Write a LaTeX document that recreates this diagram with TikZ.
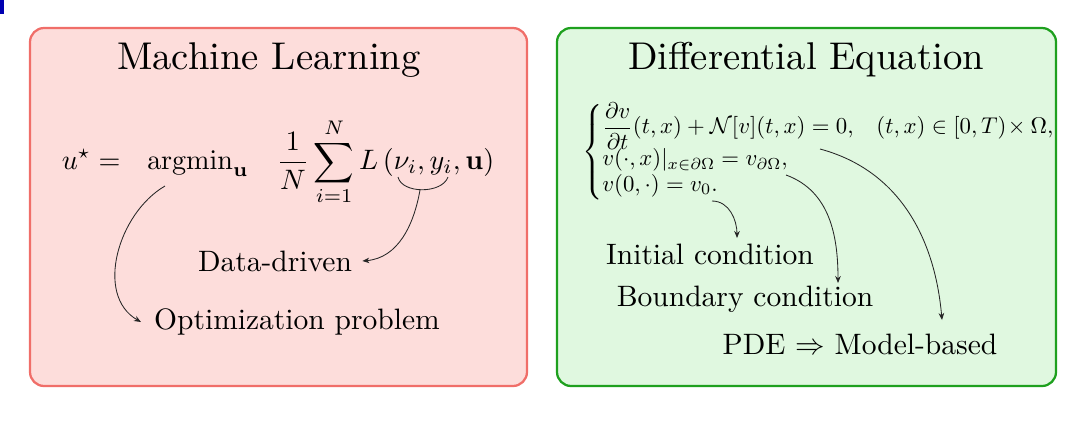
\documentclass[tikz,border=0pt]{standalone}
\usepackage{amsmath,amssymb}
\usetikzlibrary{arrows.meta}
\begin{document}
\begin{tikzpicture}[x=0.025cm,y=-0.025cm,
  panel/.style={rounded corners=10pt,line width=1.6pt},
  title/.style={scale=2.75},
  txt/.style={scale=2.1},
  conn/.style={-{Stealth[length=5pt,width=4pt]},line width=0.6pt,black!85}]
\useasboundingbox (0,0) rectangle (1082,436);
\fill[blue!70!black] (0,0) rectangle (4,14);
\draw[panel,draw={rgb,255:red,240;green,110;blue,105},fill={rgb,255:red,253;green,221;blue,219}] (30,28) rectangle (527,386);
\draw[panel,draw={rgb,255:red,30;green,160;blue,30},fill={rgb,255:red,224;green,248;blue,224}] (557,28) rectangle (1056,386);
\node[title] (t1) at (269,60) {Machine Learning};
\node[title] (t2) at (806,60) {Differential Equation};
\node[scale=2.0] (ml) at (278,162) {$\displaystyle u^\star =\ \ \mathrm{argmin}_{\mathbf u}\ \ \ \frac{1}{N}\sum_{i=1}^{N} L\left(\nu_i, y_i, \mathbf{u}\right)$};
\node[txt] (dd) at (275,261) {Data-driven};
\node[txt] (op) at (297,322) {Optimization problem};
\coordinate (b1) at (398,177);
\coordinate (b2) at (448,177);
\coordinate (bm) at (420,190);
\coordinate (am) at (165,186);
\draw[line width=0.6pt,black!85] (b1) .. controls (402,194) and (442,194) .. (b2);
\draw[conn] (bm) to[out=-100,in=5] (dd.east);
\draw[conn] (am) to[out=210,in=150] ([xshift=-2pt]op.west);
\node[scale=1.62,anchor=west] (pde) at (574,152) {$\begin{cases}\dfrac{\partial v}{\partial t}(t,x)+\mathcal N[v](t,x)=0, \;\;\; (t,x)\in[0,T)\!\times\Omega,\\[-3pt] v(\cdot,x)|_{x\in\partial\Omega}=v_{\partial\Omega},\\[-3pt] v(0,\cdot)=v_0.\end{cases}$};
\node[txt] (ic) at (710,254) {Initial condition};
\node[txt] (bc) at (745,299) {Boundary condition};
\node[txt] (mb) at (860,344) {PDE $\Rightarrow$ Model-based};
\coordinate (e3) at (712,201);
\coordinate (e2) at (786,175);
\coordinate (e1) at (820,149);
\coordinate (ict) at (737,238);
\draw[conn] (e3) to[out=0,in=90] (ict);
\draw[conn] (e2) to[out=-20,in=90] (838,283);
\draw[conn] (e1) to[out=-15,in=95] (942,320);
\end{tikzpicture}
\end{document}
